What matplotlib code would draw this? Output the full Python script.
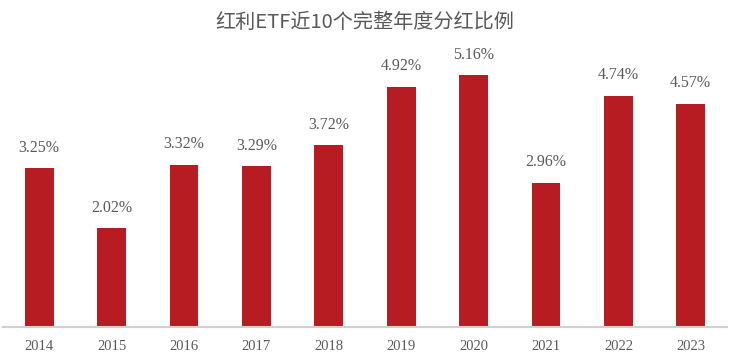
import matplotlib
matplotlib.use("Agg")
import matplotlib.pyplot as plt

years = ["2014", "2015", "2016", "2017", "2018", "2019", "2020", "2021", "2022", "2023"]
ratios = [3.25, 2.02, 3.32, 3.29, 3.72, 4.92, 5.16, 2.96, 4.74, 4.57]
title = "红利ETF近10个完整年度分红比例"

W, H = 730, 360
fig = plt.figure(figsize=(W / 100, H / 100), dpi=100)
left, right, bottom, top = 3, 727, 327, 40
ax = fig.add_axes([left / W, (H - bottom) / H, (right - left) / W, (bottom - top) / H])

bar_color = "#B71C23"
text_color = "#595959"
x = list(range(len(years)))
ax.bar(x, ratios, width=0.4, color=bar_color, zorder=2)
ax.set_xlim(-0.5, len(years) - 0.5)
ax.set_ylim(0, (bottom - top) / 48.8)

for xi, v in zip(x, ratios):
    ax.annotate(f"{v:.2f}%", (xi, v), xytext=(0, 9), textcoords="offset points",
                ha="center", va="bottom", fontsize=11.5, color=text_color,
                family=["Liberation Serif", "DejaVu Serif"])

ax.set_xticks(x)
ax.set_xticklabels(years, fontsize=10.5, color=text_color, family=["Liberation Serif"])
ax.tick_params(axis="x", length=0, pad=9)
ax.set_yticks([])
for s in ["top", "right", "left"]:
    ax.spines[s].set_visible(False)
ax.spines["bottom"].set_color("#D0D0D0")
ax.spines["bottom"].set_linewidth(1.5)

fig.text(0.5, 1 - 22 / H, title, ha="center", va="center", fontsize=14.5,
         color=text_color, family=["Noto Sans CJK SC", "DejaVu Sans"])

fig.savefig("out.png", dpi=100)
